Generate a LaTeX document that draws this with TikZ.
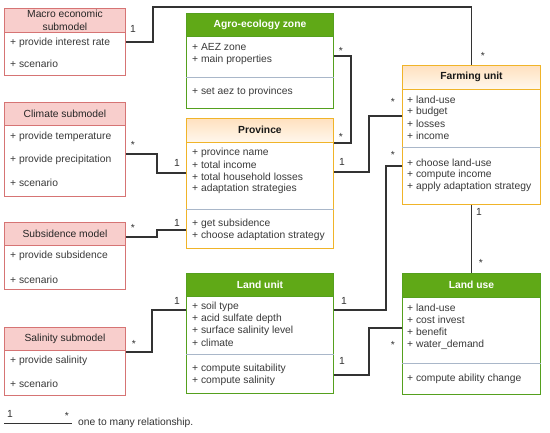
\documentclass[tikz,border=0pt]{standalone}
\usepackage{fontspec}
\setmainfont{Liberation Sans}
\usetikzlibrary{calc}
\definecolor{redfill}{HTML}{F8CECC}
\definecolor{redline}{HTML}{D67474}
\definecolor{grnfill}{HTML}{60A917}
\definecolor{grnline}{HTML}{55A01E}
\definecolor{orline}{HTML}{F0B429}
\definecolor{ortop}{HTML}{FFE1BF}
\definecolor{orbot}{HTML}{FFF7EC}
\definecolor{sepline}{HTML}{A9B7C9}
\definecolor{txt}{HTML}{3A3A3A}
\definecolor{conncol}{HTML}{333333}
\newcommand\umlitems[5]{\foreach \t [count=\i] in {#5} {\node[item] (#1\i) at (#2,{#3+(\i-1)*#4}) {\t};}}
\begin{document}
\begin{tikzpicture}[x=1pt,y=-1pt,
  every node/.style={font=\fontsize{10.3}{12.3}\selectfont},
  item/.style={anchor=west, inner sep=0pt, text=txt},
  boxbase/.style={anchor=north west, inner sep=0pt, fill=white, line width=0.9pt},
  redbox/.style={boxbase, draw=redline},
  grnbox/.style={boxbase, draw=grnline},
  orbox/.style={boxbase, draw=orline},
  headbase/.style={anchor=north west, inner sep=0pt, line width=0.9pt},
  redhead/.style={headbase, fill=redfill, draw=redline, align=center, text=black!85},
  grnhead/.style={headbase, fill=grnfill, draw=grnline, text=white, font=\fontsize{10.3}{12.3}\selectfont\bfseries},
  orhead/.style={headbase, top color=ortop, bottom color=orbot, draw=orline, text=black!90, font=\fontsize{10.3}{12.3}\selectfont\bfseries},
  sep/.style={draw=sepline, line width=0.9pt},
  conn/.style={draw=conncol, line width=1.2pt},
  multone/.style={anchor=base, inner sep=0pt, text=conncol, yshift=-3.7pt},
  multstar/.style={anchor=base, inner sep=0pt, text=conncol, yshift=-6pt}]
\useasboundingbox (0,0) rectangle (550,432);

% ---------- red submodels ----------
\node[redbox, minimum width=121pt, minimum height=67pt] (macro) at (4,8) {};
\node[redhead, minimum width=121pt, minimum height=24pt] (macroH) at (4,8) {Macro economic\\submodel};
\umlitems{macroI}{10}{43}{21}{+ provide interest rate,+ scenario}

\node[redbox, minimum width=121pt, minimum height=94pt] (climate) at (4,102) {};
\node[redhead, minimum width=121pt, minimum height=23pt] (climateH) at (4,102) {Climate submodel};
\umlitems{climateI}{10}{137}{23}{+ provide temperature,+ provide precipitation,+ scenario}

\node[redbox, minimum width=121pt, minimum height=67pt] (subs) at (4,222) {};
\node[redhead, minimum width=121pt, minimum height=23pt] (subsH) at (4,222) {Subsidence model};
\umlitems{subsI}{10}{256}{24}{+ provide subsidence,+ scenario}

\node[redbox, minimum width=121pt, minimum height=68pt] (sal) at (4,327) {};
\node[redhead, minimum width=121pt, minimum height=23pt] (salH) at (4,327) {Salinity submodel};
\umlitems{salI}{10}{361}{23}{+ provide salinity,+ scenario}

% ---------- Agro-ecology zone ----------
\node[grnbox, minimum width=147pt, minimum height=95pt] (agro) at (186,13) {};
\node[grnhead, minimum width=147pt, minimum height=23pt] (agroH) at (186,13) {Agro-ecology zone};
\umlitems{agroA}{192}{47.3}{12.7}{+ AEZ zone,+ main properties}
\draw[sep] ([yshift=-64pt]agro.north west) -- ([yshift=-64pt]agro.north east);
\umlitems{agroM}{192}{92.3}{12}{+ set aez to provinces}

% ---------- Province ----------
\node[orbox, minimum width=147pt, minimum height=130pt] (prov) at (186,118) {};
\node[orhead, minimum width=147pt, minimum height=23.5pt] (provH) at (186,118) {Province};
\umlitems{provA}{192}{153.3}{12}{+ province name,+ total income,+ total household losses,+ adaptation strategies}
\draw[sep] ([yshift=-91pt]prov.north west) -- ([yshift=-91pt]prov.north east);
\umlitems{provM}{192}{224}{12.3}{+ get subsidence,+ choose adaptation strategy}

% ---------- Farming unit ----------
\node[orbox, minimum width=138pt, minimum height=139pt] (farm) at (402,65) {};
\node[orhead, minimum width=138pt, minimum height=23.5pt] (farmH) at (402,65) {Farming unit};
\umlitems{farmA}{407}{100}{12.1}{+ land-use,+ budget,+ losses,+ income}
\draw[sep] ([yshift=-82pt]farm.north west) -- ([yshift=-82pt]farm.north east);
\umlitems{farmM}{407}{162.7}{12}{+ choose land-use,+ compute income,+ apply adaptation strategy}

% ---------- Land unit ----------
\node[grnbox, minimum width=147pt, minimum height=120pt] (lunit) at (186,273) {};
\node[grnhead, minimum width=147pt, minimum height=23pt] (lunitH) at (186,273) {Land unit};
\umlitems{lunitA}{192}{306.7}{12.1}{+ soil type,+ acid sulfate depth,+ surface salinity level,+ climate}
\draw[sep] ([yshift=-81pt]lunit.north west) -- ([yshift=-81pt]lunit.north east);
\umlitems{lunitM}{192}{369}{12}{+ compute suitability,+ compute salinity}

% ---------- Land use ----------
\node[grnbox, minimum width=138pt, minimum height=121pt] (luse) at (402,273) {};
\node[grnhead, minimum width=138pt, minimum height=23.5pt] (luseH) at (402,273) {Land use};
\umlitems{luseA}{407}{307.7}{12.2}{+ land-use,+ cost invest,+ benefit,+ water\_demand}
\draw[sep] ([yshift=-90pt]luse.north west) -- ([yshift=-90pt]luse.north east);
\umlitems{luseM}{407}{379}{12}{+ compute ability change}

% ---------- connectors ----------
\draw[conn] ([yshift=-34pt]macro.north east) -- ++(27,0) -- ++(0,-35) -| (farm.north);
\draw[conn] ([yshift=-52pt]climate.north east) -- ++(31,0) |- ([yshift=-55pt]prov.north west);
\draw[conn] ([yshift=-15pt]subs.north east) -- ++(31,0) |- ([yshift=-112pt]prov.north west);
\draw[conn] ([yshift=-25pt]sal.north east) -- ++(26,0) |- ([yshift=-37pt]lunit.north west);
\draw[conn] ([yshift=-43pt]agro.north east) -- ++(17,0) |- ([yshift=-25pt]prov.north east);
\draw[conn] ([yshift=-54pt]prov.north east) -- ++(35,0) |- ([yshift=-51pt]farm.north west);
\draw[conn] ([yshift=-37pt]lunit.north east) -- ++(52,0) |- ([yshift=-101pt]farm.north west);
\draw[conn] ([yshift=-102pt]lunit.north east) -- ++(35,0) |- ([yshift=-55pt]luse.north west);
\draw[conn] (farm.south) -- (luse.north);

% ---------- multiplicities ----------
\node[multone]  (m1)  at (133,29)  {1};
\node[multstar] (m2)  at (483,53)  {*};
\node[multstar] (m3)  at (133,142) {*};
\node[multone]  (m4)  at (177,163) {1};
\node[multstar] (m5)  at (133,225) {*};
\node[multone]  (m6)  at (177,223) {1};
\node[multstar] (m7)  at (134,341) {*};
\node[multone]  (m8)  at (177,301) {1};
\node[multstar] (m9)  at (341,48)  {*};
\node[multstar] (m10) at (341,134) {*};
\node[multone]  (m11) at (342,162) {1};
\node[multstar] (m12) at (393,99)  {*};
\node[multone]  (m13) at (344,301) {1};
\node[multstar] (m14) at (393,152) {*};
\node[multone]  (m15) at (342,361) {1};
\node[multstar] (m16) at (393,342) {*};
\node[multone]  (m17) at (479,212) {1};
\node[multstar] (m18) at (481,260) {*};

% ---------- legend ----------
\coordinate (lgA) at (4,423);
\coordinate (lgB) at (72,423);
\draw[conn, line width=1pt] (lgA) -- (lgB);
\node[multone]  (lg1) at (10,414) {1};
\node[multstar] (lg2) at (67,413) {*};
\node[anchor=west, inner sep=0pt, text=conncol] (lgT) at (78,423) {one to many relationship.};
\end{tikzpicture}
\end{document}
